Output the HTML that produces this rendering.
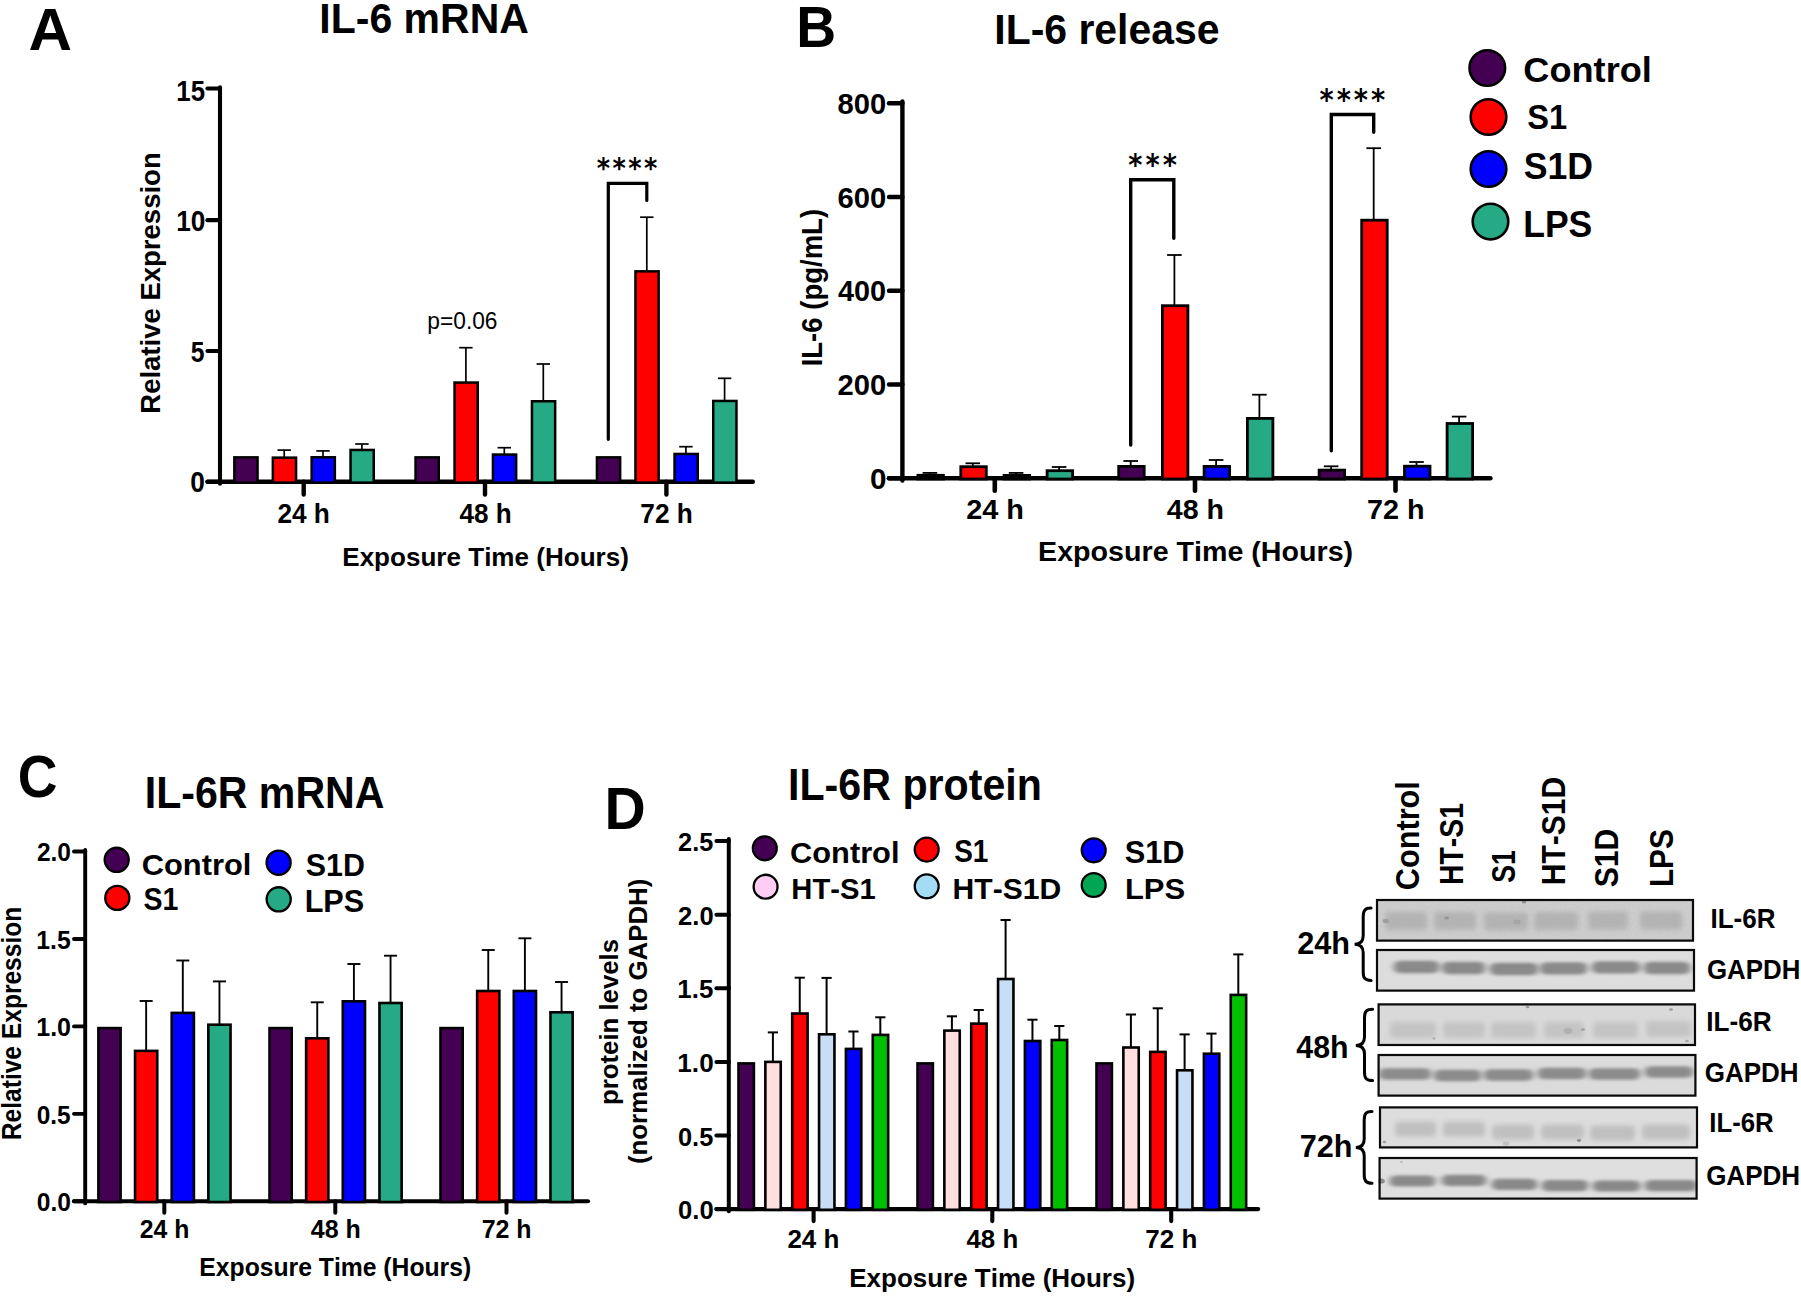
<!DOCTYPE html>
<html lang="en"><head><meta charset="utf-8"><title>IL-6 figure</title>
<style>html,body{margin:0;padding:0;background:#fff}svg{display:block}text{font-family:"Liberation Sans",Arial,Helvetica,sans-serif;font-kerning:none}</style></head>
<body><svg width="1801" height="1296" viewBox="0 0 1801 1296">
<rect width="1801" height="1296" fill="#fff"/>
<text x="28.50" y="50.00" font-size="59.30" font-weight="bold" textLength="43.49" lengthAdjust="spacingAndGlyphs" fill="#000">A</text>
<text x="319.36" y="32.60" font-size="43.31" font-weight="bold" textLength="209.52" lengthAdjust="spacingAndGlyphs" fill="#000">IL-6 mRNA</text>
<line x1="220.00" y1="87.30" x2="220.00" y2="483.80" stroke="#000" stroke-width="4.1" stroke-linecap="round"/>
<line x1="207.50" y1="481.80" x2="752.80" y2="481.80" stroke="#000" stroke-width="4.4" stroke-linecap="round"/>
<line x1="207.50" y1="88.50" x2="220.00" y2="88.50" stroke="#000" stroke-width="4.2" stroke-linecap="round"/>
<line x1="207.50" y1="220.20" x2="220.00" y2="220.20" stroke="#000" stroke-width="4.2" stroke-linecap="round"/>
<line x1="207.50" y1="351.00" x2="220.00" y2="351.00" stroke="#000" stroke-width="4.2" stroke-linecap="round"/>
<line x1="207.50" y1="481.80" x2="220.00" y2="481.80" stroke="#000" stroke-width="4.2" stroke-linecap="round"/>
<line x1="303.70" y1="481.80" x2="303.70" y2="494.60" stroke="#000" stroke-width="4.4" stroke-linecap="round"/>
<line x1="485.00" y1="481.80" x2="485.00" y2="494.60" stroke="#000" stroke-width="4.4" stroke-linecap="round"/>
<line x1="666.40" y1="481.80" x2="666.40" y2="494.60" stroke="#000" stroke-width="4.4" stroke-linecap="round"/>
<text x="176.27" y="100.50" font-size="28.70" font-weight="bold" textLength="28.75" lengthAdjust="spacingAndGlyphs" fill="#000">15</text>
<text x="176.25" y="230.80" font-size="28.70" font-weight="bold" textLength="29.12" lengthAdjust="spacingAndGlyphs" fill="#000">10</text>
<text x="190.84" y="361.60" font-size="28.70" font-weight="bold" textLength="13.75" lengthAdjust="spacingAndGlyphs" fill="#000">5</text>
<text x="190.36" y="492.30" font-size="28.70" font-weight="bold" textLength="14.62" lengthAdjust="spacingAndGlyphs" fill="#000">0</text>
<text transform="translate(159.90,413.74) rotate(-90)" font-size="28.00" font-weight="bold" textLength="261.45" lengthAdjust="spacingAndGlyphs">Relative Expression</text>
<text x="277.39" y="522.80" font-size="26.91" font-weight="bold" textLength="52.54" lengthAdjust="spacingAndGlyphs" fill="#000">24 h</text>
<text x="459.41" y="522.80" font-size="26.91" font-weight="bold" textLength="52.21" lengthAdjust="spacingAndGlyphs" fill="#000">48 h</text>
<text x="640.37" y="522.80" font-size="26.91" font-weight="bold" textLength="52.56" lengthAdjust="spacingAndGlyphs" fill="#000">72 h</text>
<text x="342.26" y="565.50" font-size="26.30" font-weight="bold" textLength="286.64" lengthAdjust="spacingAndGlyphs" fill="#000">Exposure Time (Hours)</text>
<rect x="234.35" y="457.35" width="23.20" height="25.25" fill="#440154" stroke="#000" stroke-width="2.5"/>
<line x1="284.20" y1="450.10" x2="284.20" y2="457.40" stroke="#000" stroke-width="1.7" stroke-linecap="butt"/>
<line x1="277.50" y1="450.10" x2="290.90" y2="450.10" stroke="#000" stroke-width="1.7" stroke-linecap="butt"/>
<rect x="272.85" y="457.65" width="23.20" height="24.95" fill="#ff0000" stroke="#000" stroke-width="2.5"/>
<line x1="323.00" y1="450.90" x2="323.00" y2="457.00" stroke="#000" stroke-width="1.7" stroke-linecap="butt"/>
<line x1="316.30" y1="450.90" x2="329.70" y2="450.90" stroke="#000" stroke-width="1.7" stroke-linecap="butt"/>
<rect x="311.65" y="457.25" width="23.20" height="25.35" fill="#0000ff" stroke="#000" stroke-width="2.5"/>
<line x1="361.90" y1="444.00" x2="361.90" y2="449.70" stroke="#000" stroke-width="1.7" stroke-linecap="butt"/>
<line x1="355.20" y1="444.00" x2="368.60" y2="444.00" stroke="#000" stroke-width="1.7" stroke-linecap="butt"/>
<rect x="350.55" y="449.95" width="23.20" height="32.65" fill="#26a985" stroke="#000" stroke-width="2.5"/>
<rect x="415.55" y="457.35" width="23.20" height="25.25" fill="#440154" stroke="#000" stroke-width="2.5"/>
<line x1="465.90" y1="347.70" x2="465.90" y2="382.30" stroke="#000" stroke-width="1.7" stroke-linecap="butt"/>
<line x1="459.20" y1="347.70" x2="472.60" y2="347.70" stroke="#000" stroke-width="1.7" stroke-linecap="butt"/>
<rect x="454.55" y="382.55" width="23.20" height="100.05" fill="#ff0000" stroke="#000" stroke-width="2.5"/>
<line x1="504.30" y1="447.70" x2="504.30" y2="454.30" stroke="#000" stroke-width="1.7" stroke-linecap="butt"/>
<line x1="497.60" y1="447.70" x2="511.00" y2="447.70" stroke="#000" stroke-width="1.7" stroke-linecap="butt"/>
<rect x="492.95" y="454.55" width="23.20" height="28.05" fill="#0000ff" stroke="#000" stroke-width="2.5"/>
<line x1="543.30" y1="364.00" x2="543.30" y2="401.00" stroke="#000" stroke-width="1.7" stroke-linecap="butt"/>
<line x1="536.60" y1="364.00" x2="550.00" y2="364.00" stroke="#000" stroke-width="1.7" stroke-linecap="butt"/>
<rect x="531.95" y="401.25" width="23.20" height="81.35" fill="#26a985" stroke="#000" stroke-width="2.5"/>
<rect x="596.95" y="457.35" width="23.20" height="25.25" fill="#440154" stroke="#000" stroke-width="2.5"/>
<line x1="646.80" y1="217.20" x2="646.80" y2="271.10" stroke="#000" stroke-width="1.7" stroke-linecap="butt"/>
<line x1="640.10" y1="217.20" x2="653.50" y2="217.20" stroke="#000" stroke-width="1.7" stroke-linecap="butt"/>
<rect x="635.45" y="271.35" width="23.20" height="211.25" fill="#ff0000" stroke="#000" stroke-width="2.5"/>
<line x1="685.90" y1="446.70" x2="685.90" y2="453.70" stroke="#000" stroke-width="1.7" stroke-linecap="butt"/>
<line x1="679.20" y1="446.70" x2="692.60" y2="446.70" stroke="#000" stroke-width="1.7" stroke-linecap="butt"/>
<rect x="674.55" y="453.95" width="23.20" height="28.65" fill="#0000ff" stroke="#000" stroke-width="2.5"/>
<line x1="724.60" y1="378.30" x2="724.60" y2="400.70" stroke="#000" stroke-width="1.7" stroke-linecap="butt"/>
<line x1="717.90" y1="378.30" x2="731.30" y2="378.30" stroke="#000" stroke-width="1.7" stroke-linecap="butt"/>
<rect x="713.25" y="400.95" width="23.20" height="81.65" fill="#26a985" stroke="#000" stroke-width="2.5"/>
<path d="M608.3,439.3 V183.3 H646.8 V200.4" fill="none" stroke="#000" stroke-width="3.2" stroke-linecap="round" stroke-linejoin="miter"/>
<text transform="translate(596.69,178.28) scale(0.8761,1)" font-size="29.07" font-weight="bold" style="font-family:'DejaVu Sans',sans-serif" letter-spacing="2.83">****</text>
<text x="427.33" y="328.60" font-size="23.30" font-weight="normal" textLength="70.16" lengthAdjust="spacingAndGlyphs" fill="#000">p=0.06</text>
<text x="796.20" y="47.30" font-size="58.29" font-weight="bold" textLength="39.91" lengthAdjust="spacingAndGlyphs" fill="#000">B</text>
<text x="994.36" y="44.20" font-size="42.73" font-weight="bold" textLength="225.13" lengthAdjust="spacingAndGlyphs" fill="#000">IL-6 release</text>
<line x1="902.40" y1="101.50" x2="902.40" y2="480.60" stroke="#000" stroke-width="4.4" stroke-linecap="round"/>
<line x1="889.00" y1="478.30" x2="1490.40" y2="478.30" stroke="#000" stroke-width="4.5" stroke-linecap="round"/>
<line x1="889.00" y1="478.30" x2="902.40" y2="478.30" stroke="#000" stroke-width="4.4" stroke-linecap="round"/>
<line x1="889.00" y1="384.55" x2="902.40" y2="384.55" stroke="#000" stroke-width="4.4" stroke-linecap="round"/>
<line x1="889.00" y1="290.80" x2="902.40" y2="290.80" stroke="#000" stroke-width="4.4" stroke-linecap="round"/>
<line x1="889.00" y1="197.05" x2="902.40" y2="197.05" stroke="#000" stroke-width="4.4" stroke-linecap="round"/>
<line x1="889.00" y1="103.30" x2="902.40" y2="103.30" stroke="#000" stroke-width="4.4" stroke-linecap="round"/>
<line x1="994.80" y1="478.30" x2="994.80" y2="490.80" stroke="#000" stroke-width="4.6" stroke-linecap="round"/>
<line x1="1195.00" y1="478.30" x2="1195.00" y2="490.80" stroke="#000" stroke-width="4.6" stroke-linecap="round"/>
<line x1="1395.50" y1="478.30" x2="1395.50" y2="490.80" stroke="#000" stroke-width="4.6" stroke-linecap="round"/>
<text x="837.58" y="113.80" font-size="29.10" font-weight="bold" textLength="48.62" lengthAdjust="spacingAndGlyphs" fill="#000">800</text>
<text x="837.43" y="207.55" font-size="29.10" font-weight="bold" textLength="48.77" lengthAdjust="spacingAndGlyphs" fill="#000">600</text>
<text x="838.06" y="301.30" font-size="29.10" font-weight="bold" textLength="48.12" lengthAdjust="spacingAndGlyphs" fill="#000">400</text>
<text x="837.49" y="395.05" font-size="29.10" font-weight="bold" textLength="48.71" lengthAdjust="spacingAndGlyphs" fill="#000">200</text>
<text x="869.93" y="489.10" font-size="29.10" font-weight="bold" textLength="16.49" lengthAdjust="spacingAndGlyphs" fill="#000">0</text>
<text transform="translate(821.70,366.34) rotate(-90)" font-size="30.20" font-weight="bold" textLength="157.41" lengthAdjust="spacingAndGlyphs">IL-6 (pg/mL)</text>
<text x="966.20" y="519.40" font-size="27.60" font-weight="bold" textLength="57.79" lengthAdjust="spacingAndGlyphs" fill="#000">24 h</text>
<text x="1166.87" y="519.40" font-size="27.60" font-weight="bold" textLength="57.21" lengthAdjust="spacingAndGlyphs" fill="#000">48 h</text>
<text x="1367.06" y="519.40" font-size="27.60" font-weight="bold" textLength="57.62" lengthAdjust="spacingAndGlyphs" fill="#000">72 h</text>
<text x="1038.08" y="561.20" font-size="28.30" font-weight="bold" textLength="315.04" lengthAdjust="spacingAndGlyphs" fill="#000">Exposure Time (Hours)</text>
<line x1="929.90" y1="472.90" x2="929.90" y2="474.90" stroke="#000" stroke-width="1.8" stroke-linecap="butt"/>
<line x1="922.60" y1="472.90" x2="937.20" y2="472.90" stroke="#000" stroke-width="1.8" stroke-linecap="butt"/>
<rect x="917.90" y="475.30" width="25.50" height="3.70" fill="#000" stroke="#000" stroke-width="2.8"/>
<line x1="972.80" y1="463.30" x2="972.80" y2="466.30" stroke="#000" stroke-width="1.8" stroke-linecap="butt"/>
<line x1="965.50" y1="463.30" x2="980.10" y2="463.30" stroke="#000" stroke-width="1.8" stroke-linecap="butt"/>
<rect x="960.80" y="466.70" width="25.50" height="12.30" fill="#ff0000" stroke="#000" stroke-width="2.8"/>
<line x1="1016.10" y1="472.90" x2="1016.10" y2="475.00" stroke="#000" stroke-width="1.8" stroke-linecap="butt"/>
<line x1="1008.80" y1="472.90" x2="1023.40" y2="472.90" stroke="#000" stroke-width="1.8" stroke-linecap="butt"/>
<rect x="1004.10" y="475.40" width="25.50" height="3.60" fill="#000" stroke="#000" stroke-width="2.8"/>
<line x1="1059.10" y1="467.00" x2="1059.10" y2="470.30" stroke="#000" stroke-width="1.8" stroke-linecap="butt"/>
<line x1="1051.80" y1="467.00" x2="1066.40" y2="467.00" stroke="#000" stroke-width="1.8" stroke-linecap="butt"/>
<rect x="1047.10" y="470.70" width="25.50" height="8.30" fill="#26a985" stroke="#000" stroke-width="2.8"/>
<line x1="1130.70" y1="461.00" x2="1130.70" y2="466.00" stroke="#000" stroke-width="1.8" stroke-linecap="butt"/>
<line x1="1123.40" y1="461.00" x2="1138.00" y2="461.00" stroke="#000" stroke-width="1.8" stroke-linecap="butt"/>
<rect x="1118.70" y="466.40" width="25.50" height="12.60" fill="#440154" stroke="#000" stroke-width="2.8"/>
<line x1="1174.40" y1="255.00" x2="1174.40" y2="305.30" stroke="#000" stroke-width="1.8" stroke-linecap="butt"/>
<line x1="1167.10" y1="255.00" x2="1181.70" y2="255.00" stroke="#000" stroke-width="1.8" stroke-linecap="butt"/>
<rect x="1162.40" y="305.70" width="25.50" height="173.30" fill="#ff0000" stroke="#000" stroke-width="2.8"/>
<line x1="1216.10" y1="460.00" x2="1216.10" y2="466.00" stroke="#000" stroke-width="1.8" stroke-linecap="butt"/>
<line x1="1208.80" y1="460.00" x2="1223.40" y2="460.00" stroke="#000" stroke-width="1.8" stroke-linecap="butt"/>
<rect x="1204.10" y="466.40" width="25.50" height="12.60" fill="#0000ff" stroke="#000" stroke-width="2.8"/>
<line x1="1259.40" y1="394.70" x2="1259.40" y2="418.00" stroke="#000" stroke-width="1.8" stroke-linecap="butt"/>
<line x1="1252.10" y1="394.70" x2="1266.70" y2="394.70" stroke="#000" stroke-width="1.8" stroke-linecap="butt"/>
<rect x="1247.40" y="418.40" width="25.50" height="60.60" fill="#26a985" stroke="#000" stroke-width="2.8"/>
<line x1="1331.10" y1="466.30" x2="1331.10" y2="469.70" stroke="#000" stroke-width="1.8" stroke-linecap="butt"/>
<line x1="1323.80" y1="466.30" x2="1338.40" y2="466.30" stroke="#000" stroke-width="1.8" stroke-linecap="butt"/>
<rect x="1319.10" y="470.10" width="25.50" height="8.90" fill="#440154" stroke="#000" stroke-width="2.8"/>
<line x1="1373.70" y1="148.20" x2="1373.70" y2="219.80" stroke="#000" stroke-width="1.8" stroke-linecap="butt"/>
<line x1="1366.40" y1="148.20" x2="1381.00" y2="148.20" stroke="#000" stroke-width="1.8" stroke-linecap="butt"/>
<rect x="1361.70" y="220.20" width="25.50" height="258.80" fill="#ff0000" stroke="#000" stroke-width="2.8"/>
<line x1="1416.50" y1="462.00" x2="1416.50" y2="465.80" stroke="#000" stroke-width="1.8" stroke-linecap="butt"/>
<line x1="1409.20" y1="462.00" x2="1423.80" y2="462.00" stroke="#000" stroke-width="1.8" stroke-linecap="butt"/>
<rect x="1404.50" y="466.20" width="25.50" height="12.80" fill="#0000ff" stroke="#000" stroke-width="2.8"/>
<line x1="1459.10" y1="416.60" x2="1459.10" y2="423.10" stroke="#000" stroke-width="1.8" stroke-linecap="butt"/>
<line x1="1451.80" y1="416.60" x2="1466.40" y2="416.60" stroke="#000" stroke-width="1.8" stroke-linecap="butt"/>
<rect x="1447.10" y="423.50" width="25.50" height="55.50" fill="#26a985" stroke="#000" stroke-width="2.8"/>
<path d="M1130.7,445 V179.7 H1173.8 V238.3" fill="none" stroke="#000" stroke-width="3.4" stroke-linecap="round"/>
<path d="M1331.3,450.7 V114.5 H1373.7 V132.3" fill="none" stroke="#000" stroke-width="3.4" stroke-linecap="round"/>
<text transform="translate(1128.16,175.04) scale(0.8934,1)" font-size="30.36" font-weight="bold" style="font-family:'DejaVu Sans',sans-serif" letter-spacing="3.43">***</text>
<text transform="translate(1319.46,110.04) scale(0.8934,1)" font-size="30.36" font-weight="bold" style="font-family:'DejaVu Sans',sans-serif" letter-spacing="3.37">****</text>
<circle cx="1487.30" cy="68.00" r="17.80" fill="#440154" stroke="#000" stroke-width="2.6"/>
<circle cx="1488.50" cy="117.00" r="17.80" fill="#ff0000" stroke="#000" stroke-width="2.6"/>
<circle cx="1488.50" cy="169.00" r="17.80" fill="#0000ff" stroke="#000" stroke-width="2.6"/>
<circle cx="1490.50" cy="221.60" r="17.80" fill="#26a985" stroke="#000" stroke-width="2.6"/>
<text x="1523.32" y="81.80" font-size="35.05" font-weight="bold" textLength="128.54" lengthAdjust="spacingAndGlyphs" fill="#000">Control</text>
<text x="1527.16" y="128.60" font-size="35.95" font-weight="bold" textLength="39.85" lengthAdjust="spacingAndGlyphs" fill="#000">S1</text>
<text x="1523.77" y="179.20" font-size="36.23" font-weight="bold" textLength="69.32" lengthAdjust="spacingAndGlyphs" fill="#000">S1D</text>
<text x="1523.22" y="236.70" font-size="36.52" font-weight="bold" textLength="69.06" lengthAdjust="spacingAndGlyphs" fill="#000">LPS</text>
<text x="17.74" y="796.80" font-size="60.15" font-weight="bold" textLength="39.76" lengthAdjust="spacingAndGlyphs" fill="#000">C</text>
<text x="144.75" y="807.50" font-size="43.61" font-weight="bold" textLength="239.63" lengthAdjust="spacingAndGlyphs" fill="#000">IL-6R mRNA</text>
<line x1="85.20" y1="850.00" x2="85.20" y2="1203.40" stroke="#000" stroke-width="3.9" stroke-linecap="round"/>
<line x1="74.00" y1="1201.30" x2="588.00" y2="1201.30" stroke="#000" stroke-width="4.1" stroke-linecap="round"/>
<line x1="74.00" y1="1201.30" x2="85.20" y2="1201.30" stroke="#000" stroke-width="3.9" stroke-linecap="round"/>
<text x="36.83" y="1211.00" font-size="25.60" font-weight="bold" textLength="34.18" lengthAdjust="spacingAndGlyphs" fill="#000">0.0</text>
<line x1="74.00" y1="1113.85" x2="85.20" y2="1113.85" stroke="#000" stroke-width="3.9" stroke-linecap="round"/>
<text x="36.84" y="1123.55" font-size="25.60" font-weight="bold" textLength="33.84" lengthAdjust="spacingAndGlyphs" fill="#000">0.5</text>
<line x1="74.00" y1="1026.40" x2="85.20" y2="1026.40" stroke="#000" stroke-width="3.9" stroke-linecap="round"/>
<text x="36.22" y="1036.10" font-size="25.60" font-weight="bold" textLength="34.80" lengthAdjust="spacingAndGlyphs" fill="#000">1.0</text>
<line x1="74.00" y1="938.95" x2="85.20" y2="938.95" stroke="#000" stroke-width="3.9" stroke-linecap="round"/>
<text x="36.24" y="948.65" font-size="25.60" font-weight="bold" textLength="34.45" lengthAdjust="spacingAndGlyphs" fill="#000">1.5</text>
<line x1="74.00" y1="851.50" x2="85.20" y2="851.50" stroke="#000" stroke-width="3.9" stroke-linecap="round"/>
<text x="36.95" y="861.20" font-size="25.60" font-weight="bold" textLength="34.05" lengthAdjust="spacingAndGlyphs" fill="#000">2.0</text>
<line x1="164.30" y1="1201.30" x2="164.30" y2="1212.80" stroke="#000" stroke-width="4" stroke-linecap="round"/>
<line x1="335.30" y1="1201.30" x2="335.30" y2="1212.80" stroke="#000" stroke-width="4" stroke-linecap="round"/>
<line x1="506.50" y1="1201.30" x2="506.50" y2="1212.80" stroke="#000" stroke-width="4" stroke-linecap="round"/>
<text transform="translate(21.10,1140.14) rotate(-90)" font-size="26.80" font-weight="bold" textLength="233.37" lengthAdjust="spacingAndGlyphs">Relative Expression</text>
<text x="139.74" y="1238.30" font-size="25.53" font-weight="bold" textLength="49.60" lengthAdjust="spacingAndGlyphs" fill="#000">24 h</text>
<text x="310.82" y="1238.30" font-size="25.53" font-weight="bold" textLength="50.03" lengthAdjust="spacingAndGlyphs" fill="#000">48 h</text>
<text x="481.63" y="1238.30" font-size="25.53" font-weight="bold" textLength="49.92" lengthAdjust="spacingAndGlyphs" fill="#000">72 h</text>
<text x="199.35" y="1276.10" font-size="25.81" font-weight="bold" textLength="271.88" lengthAdjust="spacingAndGlyphs" fill="#000">Exposure Time (Hours)</text>
<rect x="98.40" y="1028.10" width="22.20" height="173.90" fill="#440154" stroke="#000" stroke-width="2.6"/>
<line x1="146.15" y1="1001.00" x2="146.15" y2="1050.60" stroke="#000" stroke-width="1.9" stroke-linecap="butt"/>
<line x1="139.65" y1="1001.00" x2="152.65" y2="1001.00" stroke="#000" stroke-width="1.9" stroke-linecap="butt"/>
<rect x="135.05" y="1050.90" width="22.20" height="151.10" fill="#ff0000" stroke="#000" stroke-width="2.6"/>
<line x1="182.80" y1="960.50" x2="182.80" y2="1012.60" stroke="#000" stroke-width="1.9" stroke-linecap="butt"/>
<line x1="176.30" y1="960.50" x2="189.30" y2="960.50" stroke="#000" stroke-width="1.9" stroke-linecap="butt"/>
<rect x="171.70" y="1012.90" width="22.20" height="189.10" fill="#0000ff" stroke="#000" stroke-width="2.6"/>
<line x1="219.45" y1="981.40" x2="219.45" y2="1024.40" stroke="#000" stroke-width="1.9" stroke-linecap="butt"/>
<line x1="212.95" y1="981.40" x2="225.95" y2="981.40" stroke="#000" stroke-width="1.9" stroke-linecap="butt"/>
<rect x="208.35" y="1024.70" width="22.20" height="177.30" fill="#26a985" stroke="#000" stroke-width="2.6"/>
<rect x="269.50" y="1028.10" width="22.20" height="173.90" fill="#440154" stroke="#000" stroke-width="2.6"/>
<line x1="317.25" y1="1002.30" x2="317.25" y2="1038.00" stroke="#000" stroke-width="1.9" stroke-linecap="butt"/>
<line x1="310.75" y1="1002.30" x2="323.75" y2="1002.30" stroke="#000" stroke-width="1.9" stroke-linecap="butt"/>
<rect x="306.15" y="1038.30" width="22.20" height="163.70" fill="#ff0000" stroke="#000" stroke-width="2.6"/>
<line x1="353.90" y1="964.00" x2="353.90" y2="1001.00" stroke="#000" stroke-width="1.9" stroke-linecap="butt"/>
<line x1="347.40" y1="964.00" x2="360.40" y2="964.00" stroke="#000" stroke-width="1.9" stroke-linecap="butt"/>
<rect x="342.80" y="1001.30" width="22.20" height="200.70" fill="#0000ff" stroke="#000" stroke-width="2.6"/>
<line x1="390.55" y1="955.70" x2="390.55" y2="1002.70" stroke="#000" stroke-width="1.9" stroke-linecap="butt"/>
<line x1="384.05" y1="955.70" x2="397.05" y2="955.70" stroke="#000" stroke-width="1.9" stroke-linecap="butt"/>
<rect x="379.45" y="1003.00" width="22.20" height="199.00" fill="#26a985" stroke="#000" stroke-width="2.6"/>
<rect x="440.50" y="1028.10" width="22.20" height="173.90" fill="#440154" stroke="#000" stroke-width="2.6"/>
<line x1="488.25" y1="950.00" x2="488.25" y2="990.70" stroke="#000" stroke-width="1.9" stroke-linecap="butt"/>
<line x1="481.75" y1="950.00" x2="494.75" y2="950.00" stroke="#000" stroke-width="1.9" stroke-linecap="butt"/>
<rect x="477.15" y="991.00" width="22.20" height="211.00" fill="#ff0000" stroke="#000" stroke-width="2.6"/>
<line x1="524.90" y1="938.30" x2="524.90" y2="990.70" stroke="#000" stroke-width="1.9" stroke-linecap="butt"/>
<line x1="518.40" y1="938.30" x2="531.40" y2="938.30" stroke="#000" stroke-width="1.9" stroke-linecap="butt"/>
<rect x="513.80" y="991.00" width="22.20" height="211.00" fill="#0000ff" stroke="#000" stroke-width="2.6"/>
<line x1="561.55" y1="982.00" x2="561.55" y2="1012.00" stroke="#000" stroke-width="1.9" stroke-linecap="butt"/>
<line x1="555.05" y1="982.00" x2="568.05" y2="982.00" stroke="#000" stroke-width="1.9" stroke-linecap="butt"/>
<rect x="550.45" y="1012.30" width="22.20" height="189.70" fill="#26a985" stroke="#000" stroke-width="2.6"/>
<circle cx="116.70" cy="859.80" r="12.05" fill="#440154" stroke="#000" stroke-width="2.3"/>
<circle cx="117.30" cy="897.90" r="12.05" fill="#ff0000" stroke="#000" stroke-width="2.3"/>
<circle cx="278.60" cy="862.70" r="12.05" fill="#0000ff" stroke="#000" stroke-width="2.3"/>
<circle cx="278.70" cy="899.30" r="12.05" fill="#26a985" stroke="#000" stroke-width="2.3"/>
<text x="141.73" y="875.00" font-size="29.81" font-weight="bold" textLength="109.65" lengthAdjust="spacingAndGlyphs" fill="#000">Control</text>
<text x="143.38" y="910.00" font-size="30.65" font-weight="bold" textLength="34.92" lengthAdjust="spacingAndGlyphs" fill="#000">S1</text>
<text x="305.82" y="875.80" font-size="30.65" font-weight="bold" textLength="59.15" lengthAdjust="spacingAndGlyphs" fill="#000">S1D</text>
<text x="304.65" y="911.70" font-size="30.65" font-weight="bold" textLength="59.54" lengthAdjust="spacingAndGlyphs" fill="#000">LPS</text>
<text x="604.48" y="829.20" font-size="58.87" font-weight="bold" textLength="41.21" lengthAdjust="spacingAndGlyphs" fill="#000">D</text>
<text x="788.05" y="800.00" font-size="43.61" font-weight="bold" textLength="253.81" lengthAdjust="spacingAndGlyphs" fill="#000">IL-6R protein</text>
<line x1="728.80" y1="839.00" x2="728.80" y2="1211.20" stroke="#000" stroke-width="4" stroke-linecap="round"/>
<line x1="716.40" y1="1209.10" x2="1258.20" y2="1209.10" stroke="#000" stroke-width="4.1" stroke-linecap="round"/>
<line x1="716.40" y1="1209.10" x2="728.80" y2="1209.10" stroke="#000" stroke-width="4" stroke-linecap="round"/>
<text x="677.99" y="1219.20" font-size="26.00" font-weight="bold" textLength="35.67" lengthAdjust="spacingAndGlyphs" fill="#000">0.0</text>
<line x1="716.40" y1="1135.50" x2="728.80" y2="1135.50" stroke="#000" stroke-width="4" stroke-linecap="round"/>
<text x="678.00" y="1145.60" font-size="26.00" font-weight="bold" textLength="35.31" lengthAdjust="spacingAndGlyphs" fill="#000">0.5</text>
<line x1="716.40" y1="1061.90" x2="728.80" y2="1061.90" stroke="#000" stroke-width="4" stroke-linecap="round"/>
<text x="677.35" y="1072.00" font-size="26.00" font-weight="bold" textLength="36.32" lengthAdjust="spacingAndGlyphs" fill="#000">1.0</text>
<line x1="716.40" y1="988.30" x2="728.80" y2="988.30" stroke="#000" stroke-width="4" stroke-linecap="round"/>
<text x="677.37" y="998.40" font-size="26.00" font-weight="bold" textLength="35.95" lengthAdjust="spacingAndGlyphs" fill="#000">1.5</text>
<line x1="716.40" y1="914.70" x2="728.80" y2="914.70" stroke="#000" stroke-width="4" stroke-linecap="round"/>
<text x="678.11" y="924.80" font-size="26.00" font-weight="bold" textLength="35.53" lengthAdjust="spacingAndGlyphs" fill="#000">2.0</text>
<line x1="716.40" y1="841.10" x2="728.80" y2="841.10" stroke="#000" stroke-width="4" stroke-linecap="round"/>
<text x="678.12" y="851.20" font-size="26.00" font-weight="bold" textLength="35.18" lengthAdjust="spacingAndGlyphs" fill="#000">2.5</text>
<line x1="813.60" y1="1209.10" x2="813.60" y2="1221.10" stroke="#000" stroke-width="4.1" stroke-linecap="round"/>
<line x1="992.30" y1="1209.10" x2="992.30" y2="1221.10" stroke="#000" stroke-width="4.1" stroke-linecap="round"/>
<line x1="1171.20" y1="1209.10" x2="1171.20" y2="1221.10" stroke="#000" stroke-width="4.1" stroke-linecap="round"/>
<text transform="translate(617.90,1105.00) rotate(-90)" font-size="25.80" font-weight="bold" textLength="166.05" lengthAdjust="spacingAndGlyphs">protein levels</text>
<text transform="translate(647.40,1163.99) rotate(-90)" font-size="26.20" font-weight="bold" textLength="285.27" lengthAdjust="spacingAndGlyphs">(normalized to GAPDH)</text>
<text x="787.40" y="1247.80" font-size="25.67" font-weight="bold" textLength="52.01" lengthAdjust="spacingAndGlyphs" fill="#000">24 h</text>
<text x="966.51" y="1247.80" font-size="25.67" font-weight="bold" textLength="51.69" lengthAdjust="spacingAndGlyphs" fill="#000">48 h</text>
<text x="1145.38" y="1247.80" font-size="25.67" font-weight="bold" textLength="51.92" lengthAdjust="spacingAndGlyphs" fill="#000">72 h</text>
<text x="849.26" y="1287.20" font-size="25.67" font-weight="bold" textLength="285.83" lengthAdjust="spacingAndGlyphs" fill="#000">Exposure Time (Hours)</text>
<rect x="738.50" y="1063.40" width="15.40" height="146.40" fill="#440154" stroke="#000" stroke-width="2.6"/>
<line x1="772.90" y1="1032.40" x2="772.90" y2="1061.60" stroke="#000" stroke-width="2.0" stroke-linecap="butt"/>
<line x1="767.80" y1="1032.40" x2="778.00" y2="1032.40" stroke="#000" stroke-width="2.0" stroke-linecap="butt"/>
<rect x="765.35" y="1061.90" width="15.40" height="147.90" fill="#ffdfdf" stroke="#000" stroke-width="2.6"/>
<line x1="799.75" y1="977.70" x2="799.75" y2="1013.20" stroke="#000" stroke-width="2.0" stroke-linecap="butt"/>
<line x1="794.65" y1="977.70" x2="804.85" y2="977.70" stroke="#000" stroke-width="2.0" stroke-linecap="butt"/>
<rect x="792.20" y="1013.50" width="15.40" height="196.30" fill="#ff0000" stroke="#000" stroke-width="2.6"/>
<line x1="826.60" y1="977.90" x2="826.60" y2="1034.00" stroke="#000" stroke-width="2.0" stroke-linecap="butt"/>
<line x1="821.50" y1="977.90" x2="831.70" y2="977.90" stroke="#000" stroke-width="2.0" stroke-linecap="butt"/>
<rect x="819.05" y="1034.30" width="15.40" height="175.50" fill="#c8ddf6" stroke="#000" stroke-width="2.6"/>
<line x1="853.45" y1="1031.50" x2="853.45" y2="1048.60" stroke="#000" stroke-width="2.0" stroke-linecap="butt"/>
<line x1="848.35" y1="1031.50" x2="858.55" y2="1031.50" stroke="#000" stroke-width="2.0" stroke-linecap="butt"/>
<rect x="845.90" y="1048.90" width="15.40" height="160.90" fill="#0000ff" stroke="#000" stroke-width="2.6"/>
<line x1="880.30" y1="1017.30" x2="880.30" y2="1034.60" stroke="#000" stroke-width="2.0" stroke-linecap="butt"/>
<line x1="875.20" y1="1017.30" x2="885.40" y2="1017.30" stroke="#000" stroke-width="2.0" stroke-linecap="butt"/>
<rect x="872.75" y="1034.90" width="15.40" height="174.90" fill="#00c000" stroke="#000" stroke-width="2.6"/>
<rect x="917.50" y="1063.40" width="15.40" height="146.40" fill="#440154" stroke="#000" stroke-width="2.6"/>
<line x1="951.90" y1="1016.30" x2="951.90" y2="1030.30" stroke="#000" stroke-width="2.0" stroke-linecap="butt"/>
<line x1="946.80" y1="1016.30" x2="957.00" y2="1016.30" stroke="#000" stroke-width="2.0" stroke-linecap="butt"/>
<rect x="944.35" y="1030.60" width="15.40" height="179.20" fill="#ffdfdf" stroke="#000" stroke-width="2.6"/>
<line x1="978.75" y1="1010.00" x2="978.75" y2="1023.30" stroke="#000" stroke-width="2.0" stroke-linecap="butt"/>
<line x1="973.65" y1="1010.00" x2="983.85" y2="1010.00" stroke="#000" stroke-width="2.0" stroke-linecap="butt"/>
<rect x="971.20" y="1023.60" width="15.40" height="186.20" fill="#ff0000" stroke="#000" stroke-width="2.6"/>
<line x1="1005.60" y1="920.00" x2="1005.60" y2="978.70" stroke="#000" stroke-width="2.0" stroke-linecap="butt"/>
<line x1="1000.50" y1="920.00" x2="1010.70" y2="920.00" stroke="#000" stroke-width="2.0" stroke-linecap="butt"/>
<rect x="998.05" y="979.00" width="15.40" height="230.80" fill="#c8ddf6" stroke="#000" stroke-width="2.6"/>
<line x1="1032.45" y1="1019.70" x2="1032.45" y2="1040.70" stroke="#000" stroke-width="2.0" stroke-linecap="butt"/>
<line x1="1027.35" y1="1019.70" x2="1037.55" y2="1019.70" stroke="#000" stroke-width="2.0" stroke-linecap="butt"/>
<rect x="1024.90" y="1041.00" width="15.40" height="168.80" fill="#0000ff" stroke="#000" stroke-width="2.6"/>
<line x1="1059.30" y1="1026.00" x2="1059.30" y2="1039.70" stroke="#000" stroke-width="2.0" stroke-linecap="butt"/>
<line x1="1054.20" y1="1026.00" x2="1064.40" y2="1026.00" stroke="#000" stroke-width="2.0" stroke-linecap="butt"/>
<rect x="1051.75" y="1040.00" width="15.40" height="169.80" fill="#00c000" stroke="#000" stroke-width="2.6"/>
<rect x="1096.50" y="1063.40" width="15.40" height="146.40" fill="#440154" stroke="#000" stroke-width="2.6"/>
<line x1="1130.90" y1="1014.50" x2="1130.90" y2="1047.20" stroke="#000" stroke-width="2.0" stroke-linecap="butt"/>
<line x1="1125.80" y1="1014.50" x2="1136.00" y2="1014.50" stroke="#000" stroke-width="2.0" stroke-linecap="butt"/>
<rect x="1123.35" y="1047.50" width="15.40" height="162.30" fill="#ffdfdf" stroke="#000" stroke-width="2.6"/>
<line x1="1157.75" y1="1008.30" x2="1157.75" y2="1051.60" stroke="#000" stroke-width="2.0" stroke-linecap="butt"/>
<line x1="1152.65" y1="1008.30" x2="1162.85" y2="1008.30" stroke="#000" stroke-width="2.0" stroke-linecap="butt"/>
<rect x="1150.20" y="1051.90" width="15.40" height="157.90" fill="#ff0000" stroke="#000" stroke-width="2.6"/>
<line x1="1184.60" y1="1034.40" x2="1184.60" y2="1070.00" stroke="#000" stroke-width="2.0" stroke-linecap="butt"/>
<line x1="1179.50" y1="1034.40" x2="1189.70" y2="1034.40" stroke="#000" stroke-width="2.0" stroke-linecap="butt"/>
<rect x="1177.05" y="1070.30" width="15.40" height="139.50" fill="#c8ddf6" stroke="#000" stroke-width="2.6"/>
<line x1="1211.45" y1="1033.60" x2="1211.45" y2="1053.40" stroke="#000" stroke-width="2.0" stroke-linecap="butt"/>
<line x1="1206.35" y1="1033.60" x2="1216.55" y2="1033.60" stroke="#000" stroke-width="2.0" stroke-linecap="butt"/>
<rect x="1203.90" y="1053.70" width="15.40" height="156.10" fill="#0000ff" stroke="#000" stroke-width="2.6"/>
<line x1="1238.30" y1="954.40" x2="1238.30" y2="994.60" stroke="#000" stroke-width="2.0" stroke-linecap="butt"/>
<line x1="1233.20" y1="954.40" x2="1243.40" y2="954.40" stroke="#000" stroke-width="2.0" stroke-linecap="butt"/>
<rect x="1230.75" y="994.90" width="15.40" height="214.90" fill="#00c000" stroke="#000" stroke-width="2.6"/>
<circle cx="764.80" cy="848.30" r="11.95" fill="#440154" stroke="#000" stroke-width="2.3"/>
<circle cx="765.60" cy="886.70" r="11.95" fill="#ffccf4" stroke="#000" stroke-width="2.3"/>
<circle cx="926.70" cy="849.60" r="11.95" fill="#ff0000" stroke="#000" stroke-width="2.3"/>
<circle cx="926.70" cy="886.30" r="11.95" fill="#a4dcf6" stroke="#000" stroke-width="2.3"/>
<circle cx="1093.70" cy="850.30" r="11.95" fill="#0000ff" stroke="#000" stroke-width="2.3"/>
<circle cx="1093.70" cy="885.00" r="11.95" fill="#00a651" stroke="#000" stroke-width="2.3"/>
<text x="790.04" y="863.00" font-size="29.67" font-weight="bold" textLength="109.44" lengthAdjust="spacingAndGlyphs" fill="#000">Control</text>
<text x="791.35" y="898.70" font-size="30.36" font-weight="bold" textLength="84.37" lengthAdjust="spacingAndGlyphs" fill="#000">HT-S1</text>
<text x="954.19" y="862.40" font-size="30.79" font-weight="bold" textLength="34.18" lengthAdjust="spacingAndGlyphs" fill="#000">S1</text>
<text x="952.59" y="898.70" font-size="30.36" font-weight="bold" textLength="108.68" lengthAdjust="spacingAndGlyphs" fill="#000">HT-S1D</text>
<text x="1124.71" y="862.90" font-size="30.79" font-weight="bold" textLength="59.78" lengthAdjust="spacingAndGlyphs" fill="#000">S1D</text>
<text x="1124.93" y="898.70" font-size="30.36" font-weight="bold" textLength="60.28" lengthAdjust="spacingAndGlyphs" fill="#000">LPS</text>
<text transform="translate(1419.00,890.26) rotate(-90)" font-size="32.50" font-weight="bold" textLength="109.13" lengthAdjust="spacingAndGlyphs">Control</text>
<text transform="translate(1463.30,885.10) rotate(-90)" font-size="32.50" font-weight="bold" textLength="82.09" lengthAdjust="spacingAndGlyphs">HT-S1</text>
<text transform="translate(1514.50,882.67) rotate(-90)" font-size="32.50" font-weight="bold" textLength="32.61" lengthAdjust="spacingAndGlyphs">S1</text>
<text transform="translate(1564.80,885.21) rotate(-90)" font-size="32.50" font-weight="bold" textLength="108.47" lengthAdjust="spacingAndGlyphs">HT-S1D</text>
<text transform="translate(1617.50,887.27) rotate(-90)" font-size="32.50" font-weight="bold" textLength="58.63" lengthAdjust="spacingAndGlyphs">S1D</text>
<text transform="translate(1672.70,887.09) rotate(-90)" font-size="32.50" font-weight="bold" textLength="57.85" lengthAdjust="spacingAndGlyphs">LPS</text>
<defs><filter id="bl" x="-20%" y="-150%" width="140%" height="400%"><feGaussianBlur stdDeviation="3 1.8"/></filter><filter id="sp" x="-100%" y="-100%" width="300%" height="300%"><feGaussianBlur stdDeviation="0.7"/></filter><filter id="bl3" x="-20%" y="-100%" width="140%" height="300%"><feGaussianBlur stdDeviation="2.5 2.5"/></filter><filter id="bl2" x="-20%" y="-100%" width="140%" height="300%"><feGaussianBlur stdDeviation="4 3"/></filter><filter id="nz" x="0" y="0" width="100%" height="100%"><feTurbulence type="fractalNoise" baseFrequency="0.55" numOctaves="2" seed="7" result="t"/><feColorMatrix in="t" type="matrix" values="0 0 0 0 0.5  0 0 0 0 0.5  0 0 0 0 0.5  0.9 0.9 0 0 -0.62"/></filter></defs>
<clipPath id="cp0"><rect x="1376" y="899" width="318.0" height="42.6"/></clipPath>
<rect x="1376" y="899" width="318.0" height="42.6" fill="#cfcfcf"/>
<g clip-path="url(#cp0)">
<rect x="1385" y="912.0" width="42" height="18.0" rx="4.0" fill="#b2b2b2" filter="url(#bl3)"/>
<rect x="1434" y="912.0" width="42" height="18.0" rx="4.0" fill="#b2b2b2" filter="url(#bl3)"/>
<rect x="1484" y="912.5" width="44" height="18.0" rx="4.0" fill="#b2b2b2" filter="url(#bl3)"/>
<rect x="1534" y="912.0" width="44" height="18.0" rx="4.0" fill="#b2b2b2" filter="url(#bl3)"/>
<rect x="1588" y="911.5" width="40" height="18.0" rx="4.0" fill="#b2b2b2" filter="url(#bl3)"/>
<rect x="1640" y="911.5" width="42" height="18.0" rx="4.0" fill="#b2b2b2" filter="url(#bl3)"/>
<ellipse cx="1524" cy="902" rx="2.4" ry="1.6" fill="#8a8a8a" filter="url(#sp)"/>
<ellipse cx="1386" cy="921" rx="3.3" ry="2.2" fill="#9c9c9c" filter="url(#sp)"/>
<ellipse cx="1446.5" cy="918" rx="2.4" ry="1.6" fill="#8e8e8e" filter="url(#sp)"/>
<ellipse cx="1517" cy="922" rx="3.8" ry="2.5" fill="#a2a2a2" filter="url(#sp)"/>
<rect x="1376" y="899" width="318.0" height="42.6" filter="url(#nz)" opacity="0.55"/>
</g>
<rect x="1377" y="900" width="316.0" height="40.6" fill="none" stroke="#0a0a0a" stroke-width="2.2"/>
<clipPath id="cp1"><rect x="1376" y="949" width="319.0" height="42.6"/></clipPath>
<rect x="1376" y="949" width="319.0" height="42.6" fill="#dddddd"/>
<g clip-path="url(#cp1)">
<rect x="1393.5" y="960.8" width="46.0" height="12.4" rx="6.2" fill="#8a8a8a" filter="url(#bl)"/>
<rect x="1441.5" y="961.8" width="44.0" height="12.4" rx="6.2" fill="#8a8a8a" filter="url(#bl)"/>
<rect x="1489.5" y="962.8" width="49.0" height="12.4" rx="6.2" fill="#8a8a8a" filter="url(#bl)"/>
<rect x="1539.5" y="962.2" width="48.0" height="12.4" rx="6.2" fill="#8a8a8a" filter="url(#bl)"/>
<rect x="1591.5" y="961.2" width="49.0" height="12.4" rx="6.2" fill="#8a8a8a" filter="url(#bl)"/>
<rect x="1643.5" y="961.8" width="47.0" height="12.4" rx="6.2" fill="#8a8a8a" filter="url(#bl)"/>
</g>
<rect x="1377" y="950" width="317.0" height="40.6" fill="none" stroke="#0a0a0a" stroke-width="2.2"/>
<clipPath id="cp2"><rect x="1377.6" y="1003.4" width="318.4" height="42.6"/></clipPath>
<rect x="1377.6" y="1003.4" width="318.4" height="42.6" fill="#d9d9d9"/>
<g clip-path="url(#cp2)">
<rect x="1390" y="1022.0" width="46" height="16.0" rx="4.0" fill="#c4c4c4" filter="url(#bl3)"/>
<rect x="1443" y="1022.0" width="42" height="16.0" rx="4.0" fill="#c4c4c4" filter="url(#bl3)"/>
<rect x="1491" y="1022.0" width="45" height="16.0" rx="4.0" fill="#c4c4c4" filter="url(#bl3)"/>
<rect x="1544" y="1022.0" width="40" height="16.0" rx="4.0" fill="#c4c4c4" filter="url(#bl3)"/>
<rect x="1593" y="1022.0" width="45" height="16.0" rx="4.0" fill="#c4c4c4" filter="url(#bl3)"/>
<rect x="1646" y="1021.0" width="45" height="16.0" rx="4.0" fill="#c4c4c4" filter="url(#bl3)"/>
<ellipse cx="1527.5" cy="1007" rx="1.8" ry="1.2" fill="#9a9a9a" filter="url(#sp)"/>
<ellipse cx="1671" cy="1009.5" rx="2.0" ry="1.3" fill="#9a9a9a" filter="url(#sp)"/>
<ellipse cx="1568" cy="1031" rx="4.5" ry="3.0" fill="#b0b0b0" filter="url(#sp)"/>
<ellipse cx="1583" cy="1029.5" rx="2.0" ry="1.3" fill="#a0a0a0" filter="url(#sp)"/>
<ellipse cx="1434" cy="1038.5" rx="1.5" ry="1.0" fill="#a8a8a8" filter="url(#sp)"/>
<ellipse cx="1687" cy="1041" rx="1.8" ry="1.2" fill="#a8a8a8" filter="url(#sp)"/>
</g>
<rect x="1378.6" y="1004.4" width="316.4" height="40.6" fill="none" stroke="#0a0a0a" stroke-width="2.2"/>
<clipPath id="cp3"><rect x="1377.6" y="1054" width="318.8" height="42.6"/></clipPath>
<rect x="1377.6" y="1054" width="318.8" height="42.6" fill="#dbdbdb"/>
<g clip-path="url(#cp3)">
<rect x="1378.5" y="1068.2" width="53.0" height="11.6" rx="5.8" fill="#8c8c8c" filter="url(#bl)"/>
<rect x="1433.5" y="1069.7" width="48.0" height="11.6" rx="5.8" fill="#8c8c8c" filter="url(#bl)"/>
<rect x="1483.5" y="1069.2" width="50.0" height="11.6" rx="5.8" fill="#8c8c8c" filter="url(#bl)"/>
<rect x="1537.5" y="1067.7" width="49.0" height="11.6" rx="5.8" fill="#8c8c8c" filter="url(#bl)"/>
<rect x="1588.5" y="1068.2" width="52.0" height="11.6" rx="5.8" fill="#8c8c8c" filter="url(#bl)"/>
<rect x="1644.5" y="1066.2" width="49.0" height="11.6" rx="5.8" fill="#8c8c8c" filter="url(#bl)"/>
</g>
<rect x="1378.6" y="1055" width="316.8" height="40.6" fill="none" stroke="#0a0a0a" stroke-width="2.2"/>
<clipPath id="cp4"><rect x="1379" y="1106.4" width="319.0" height="42.0"/></clipPath>
<rect x="1379" y="1106.4" width="319.0" height="42.0" fill="#dddddd"/>
<g clip-path="url(#cp4)">
<rect x="1395" y="1121.5" width="41" height="15.0" rx="4.0" fill="#c0c0c0" filter="url(#bl3)"/>
<rect x="1443" y="1121.5" width="42" height="15.0" rx="4.0" fill="#c0c0c0" filter="url(#bl3)"/>
<rect x="1492" y="1124.5" width="42" height="15.0" rx="4.0" fill="#c0c0c0" filter="url(#bl3)"/>
<rect x="1541" y="1124.5" width="43" height="15.0" rx="4.0" fill="#c0c0c0" filter="url(#bl3)"/>
<rect x="1590" y="1125.5" width="45" height="15.0" rx="4.0" fill="#c0c0c0" filter="url(#bl3)"/>
<rect x="1642" y="1124.5" width="48" height="15.0" rx="4.0" fill="#c0c0c0" filter="url(#bl3)"/>
<ellipse cx="1384.5" cy="1142" rx="1.8" ry="1.2" fill="#a0a0a0" filter="url(#sp)"/>
<ellipse cx="1579" cy="1140.5" rx="2.1" ry="1.4" fill="#8c8c8c" filter="url(#sp)"/>
<ellipse cx="1506" cy="1143.5" rx="3.3" ry="2.2" fill="#c2c2c2" filter="url(#sp)"/>
</g>
<rect x="1380" y="1107.4" width="317.0" height="40.0" fill="none" stroke="#0a0a0a" stroke-width="2.2"/>
<clipPath id="cp5"><rect x="1378.6" y="1157" width="319.0" height="42.6"/></clipPath>
<rect x="1378.6" y="1157" width="319.0" height="42.6" fill="#dfdfdf"/>
<g clip-path="url(#cp5)">
<rect x="1389.5" y="1175.4" width="46.0" height="11.2" rx="5.6" fill="#898989" filter="url(#bl)"/>
<rect x="1441.5" y="1174.8" width="45.0" height="11.2" rx="5.6" fill="#898989" filter="url(#bl)"/>
<rect x="1491.5" y="1178.8" width="46.0" height="11.2" rx="5.6" fill="#898989" filter="url(#bl)"/>
<rect x="1541.5" y="1180.0" width="47.0" height="11.2" rx="5.6" fill="#898989" filter="url(#bl)"/>
<rect x="1592.5" y="1180.4" width="48.0" height="11.2" rx="5.6" fill="#898989" filter="url(#bl)"/>
<rect x="1644.5" y="1180.0" width="53.0" height="11.2" rx="5.6" fill="#898989" filter="url(#bl)"/>
<ellipse cx="1381" cy="1181" rx="3.9" ry="2.6" fill="#8e8e8e" filter="url(#sp)"/>
<ellipse cx="1401.5" cy="1162" rx="1.5" ry="1.0" fill="#b8b8b8" filter="url(#sp)"/>
</g>
<rect x="1379.6" y="1158" width="317.0" height="40.6" fill="none" stroke="#0a0a0a" stroke-width="2.2"/>
<text x="1710.46" y="927.80" font-size="27.20" font-weight="bold" textLength="65.08" lengthAdjust="spacingAndGlyphs" fill="#000">IL-6R</text>
<text x="1706.94" y="979.40" font-size="27.20" font-weight="bold" textLength="93.40" lengthAdjust="spacingAndGlyphs" fill="#000">GAPDH</text>
<text x="1706.35" y="1031.30" font-size="27.20" font-weight="bold" textLength="65.39" lengthAdjust="spacingAndGlyphs" fill="#000">IL-6R</text>
<text x="1704.73" y="1081.60" font-size="27.20" font-weight="bold" textLength="93.92" lengthAdjust="spacingAndGlyphs" fill="#000">GAPDH</text>
<text x="1709.28" y="1132.20" font-size="27.20" font-weight="bold" textLength="64.45" lengthAdjust="spacingAndGlyphs" fill="#000">IL-6R</text>
<text x="1706.13" y="1185.20" font-size="27.20" font-weight="bold" textLength="94.02" lengthAdjust="spacingAndGlyphs" fill="#000">GAPDH</text>
<text x="1297.14" y="953.80" font-size="31.50" font-weight="bold" textLength="52.87" lengthAdjust="spacingAndGlyphs" fill="#000">24h</text>
<text x="1296.34" y="1057.90" font-size="31.50" font-weight="bold" textLength="52.24" lengthAdjust="spacingAndGlyphs" fill="#000">48h</text>
<text x="1299.68" y="1157.10" font-size="31.50" font-weight="bold" textLength="52.82" lengthAdjust="spacingAndGlyphs" fill="#000">72h</text>
<path d="M1371.1,908.1 C1365.2,908.1 1363.2,910.1 1363.2,916.6 L1363.2,935.7 C1363.2,941.2 1360.2,944.2 1354.6,944.2 C1360.2,944.2 1363.2,947.2 1363.2,952.7 L1363.2,971.9 C1363.2,978.4 1365.2,980.4 1371.1,980.4" fill="none" stroke="#000" stroke-width="3" stroke-linecap="round"/>
<path d="M1372.6,1009.3 C1366.5,1009.3 1364.5,1011.3 1364.5,1017.8 L1364.5,1037.0 C1364.5,1042.5 1361.5,1045.5 1355.8,1045.5 C1361.5,1045.5 1364.5,1048.5 1364.5,1054.0 L1364.5,1072.0 C1364.5,1078.5 1366.5,1080.5 1372.6,1080.5" fill="none" stroke="#000" stroke-width="3" stroke-linecap="round"/>
<path d="M1372,1111.4 C1366.2,1111.4 1364.2,1113.4 1364.2,1119.9 L1364.2,1139.1 C1364.2,1144.6 1361.2,1147.6 1355.8,1147.6 C1361.2,1147.6 1364.2,1150.6 1364.2,1156.1 L1364.2,1174.7 C1364.2,1181.2 1366.2,1183.2 1372,1183.2" fill="none" stroke="#000" stroke-width="3" stroke-linecap="round"/>
</svg></body></html>
